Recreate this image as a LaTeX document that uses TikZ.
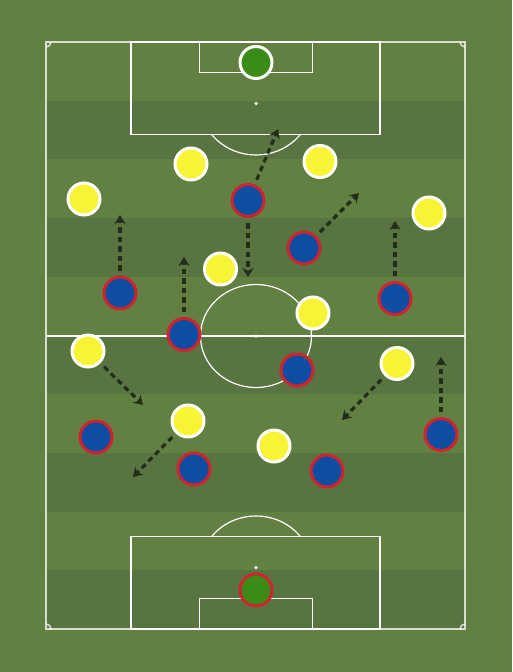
\documentclass[tikz,border=0pt]{standalone}
\usetikzlibrary{arrows.meta,shadows}
\definecolor{grassL}{HTML}{628042}
\definecolor{grassD}{HTML}{587440}
\definecolor{pyellow}{HTML}{F7F435}
\definecolor{pblue}{HTML}{0D4EA3}
\definecolor{pred}{HTML}{D1232E}
\definecolor{pgreen}{HTML}{3B8B19}
\definecolor{arrowc}{HTML}{222E1A}
\begin{document}
\begin{tikzpicture}[x=1pt,y=-1pt,
  pline/.style={white, line width=1.2pt},
  bline/.style={white, opacity=0.75, line width=1.5pt},
  player/.style={circle, line width=3pt, minimum size=32pt, inner sep=0pt,
     drop shadow={opacity=0.25, shadow xshift=0.6pt, shadow yshift=-0.8pt}},
  yel/.style={player, fill=pyellow, draw=white},
  blu/.style={player, fill=pblue, draw=pred},
  gkw/.style={player, fill=pgreen, draw=white},
  gkr/.style={player, fill=pgreen, draw=pred},
  run/.style={draw=arrowc, line width=3.2pt, dash pattern=on 5.5pt off 4pt,
     shorten <=5pt, -{Stealth[length=9pt,width=11pt,inset=3pt]}},
  spot/.style={circle, fill=white, inner sep=0pt, minimum size=3.5pt}
]
\useasboundingbox (0,0) rectangle (512,672);
\fill[grassL] (0,0) rectangle (512,672);
\foreach \i in {1,3,5,7,9}
  \fill[grassD] (46,{42+\i*58.7}) rectangle (465,{42+(\i+1)*58.7});

% pitch markings
\draw[bline] (46,42) rectangle (465,629);
\draw[pline] (46,336) -- (465,336);
\draw[pline] (256,336) ellipse [x radius=55.5, y radius=51.5];
\draw[pline] (131,42) rectangle (380,134.5);
\draw[pline] (199.5,42) rectangle (312.5,72.5);
\draw[pline] (131,629) rectangle (380,536.5);
\draw[pline] (199.5,629) rectangle (312.5,598.5);
\begin{scope}
  \clip (131,134.5) rectangle (380,200);
  \draw[pline] (256,103.5) ellipse [x radius=55.5, y radius=51.5];
\end{scope}
\begin{scope}
  \clip (131,536.5) rectangle (380,470);
  \draw[pline] (256,567.5) ellipse [x radius=55.5, y radius=51.5];
\end{scope}
\begin{scope}
  \clip (46,42) rectangle (465,629);
  \foreach \cx/\cy in {46/42,465/42,46/629,465/629}
    \draw[bline] (\cx,\cy) circle [radius=5];
\end{scope}
\node[spot] (cs) at (256,336) {};
\node[spot] (ps1) at (256,103.5) {};
\node[spot] (ps2) at (256,567.5) {};

% target points
\coordinate (t1) at (278,129);
\coordinate (t2) at (248,277);
\coordinate (t3) at (359,193);
\coordinate (t4) at (120,215);
\coordinate (t5) at (184,257);
\coordinate (t6) at (395,221);
\coordinate (t7) at (441,357);
\coordinate (t8) at (143,405);
\coordinate (t9) at (133,477);
\coordinate (t10) at (342,420);

% yellow team
\node[gkw] (ygk) at (256,62.5) {};
\node[yel] (y1) at (191,164) {};
\node[yel] (y2) at (320,161.5) {};
\node[yel] (y3) at (84,199) {};
\node[yel] (y4) at (429,213) {};
\node[yel] (y5) at (220.5,269) {};
\node[yel] (y6) at (313,313) {};
\node[yel] (y7) at (88,351) {};
\node[yel] (y8) at (397,363.5) {};
\node[yel] (y9) at (188,421) {};
\node[yel] (y10) at (274,446) {};

% blue team
\node[gkr] (bgk) at (256,590) {};
\node[blu] (b1) at (248,200.5) {};
\node[blu] (b2) at (304,248) {};
\node[blu] (b3) at (120,293) {};
\node[blu] (b4) at (395,298.5) {};
\node[blu] (b5) at (184,334.5) {};
\node[blu] (b6) at (297,370) {};
\node[blu] (b7) at (96,437) {};
\node[blu] (b8) at (194,469) {};
\node[blu] (b9) at (327,471) {};
\node[blu] (b10) at (441,434.5) {};

% runs
\draw[run] (b1) -- (t1);
\draw[run] (b1) -- (t2);
\draw[run] (b2) -- (t3);
\draw[run] (b3) -- (t4);
\draw[run] (b5) -- (t5);
\draw[run] (b4) -- (t6);
\draw[run] (b10) -- (t7);
\draw[run] (y7) -- (t8);
\draw[run] (y9) -- (t9);
\draw[run] (y8) -- (t10);
\end{tikzpicture}
\end{document}
